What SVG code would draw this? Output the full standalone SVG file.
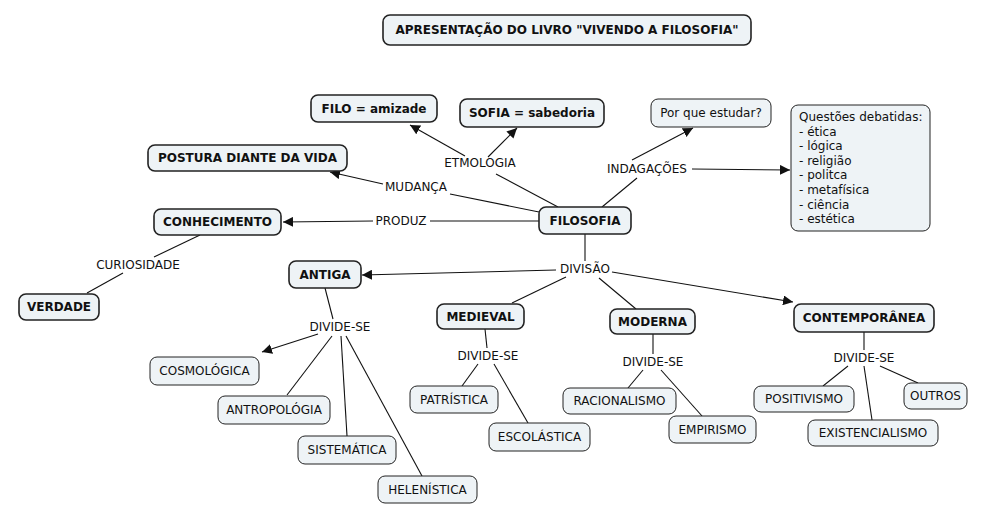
<svg xmlns="http://www.w3.org/2000/svg" width="982" height="519" viewBox="0 0 982 519">
<style>
text{font-family:"DejaVu Sans",Verdana,sans-serif;font-size:12px;fill:#111;text-anchor:middle;dominant-baseline:central}
.b{font-weight:bold}
rect{fill:#eef3f6;stroke:#222;stroke-width:1}
.n rect.k{stroke-width:1.6}
.c line{stroke:#111;stroke-width:1.1}
.lab{fill:#fff}
</style>
<defs><marker id="a" viewBox="0 0 10 10" refX="10" refY="5" markerWidth="10" markerHeight="10" markerUnits="userSpaceOnUse" orient="auto"><path d="M0,0L10,5L0,10z" fill="#111"/></marker></defs>
<g class="c">
<line x1="558" y1="207" x2="496" y2="174"/>
<line x1="465" y1="156" x2="410" y2="125" marker-end="url(#a)"/>
<line x1="488" y1="157" x2="517" y2="128" marker-end="url(#a)"/>
<line x1="539" y1="212" x2="450" y2="194"/>
<line x1="383" y1="184" x2="330" y2="172" marker-end="url(#a)"/>
<line x1="539" y1="221" x2="430" y2="221"/>
<line x1="373" y1="221" x2="283" y2="222" marker-end="url(#a)"/>
<line x1="602" y1="207" x2="637" y2="178"/>
<line x1="632" y1="160" x2="693" y2="128" marker-end="url(#a)"/>
<line x1="692" y1="169" x2="790" y2="170" marker-end="url(#a)"/>
<line x1="585" y1="234" x2="585" y2="261"/>
<line x1="556" y1="270" x2="362" y2="275" marker-end="url(#a)"/>
<line x1="566" y1="277" x2="512" y2="303"/>
<line x1="599" y1="278" x2="636" y2="309"/>
<line x1="612" y1="272" x2="793" y2="302" marker-end="url(#a)"/>
<line x1="200" y1="235" x2="154" y2="257"/>
<line x1="123" y1="273" x2="87" y2="293"/>
<line x1="325" y1="288" x2="333" y2="319"/>
<line x1="318" y1="334" x2="262" y2="352" marker-end="url(#a)"/>
<line x1="332" y1="336" x2="287" y2="395"/>
<line x1="341" y1="336" x2="347" y2="436"/>
<line x1="346" y1="336" x2="422" y2="476"/>
<line x1="485" y1="329" x2="487" y2="348"/>
<line x1="478" y1="364" x2="462" y2="386"/>
<line x1="494" y1="364" x2="528" y2="423"/>
<line x1="653" y1="334" x2="653" y2="354"/>
<line x1="643" y1="370" x2="628" y2="388"/>
<line x1="661" y1="370" x2="702" y2="416"/>
<line x1="864" y1="332" x2="864" y2="350"/>
<line x1="848" y1="366" x2="823" y2="386"/>
<line x1="864" y1="366" x2="872" y2="420"/>
<line x1="880" y1="366" x2="918" y2="383"/>
</g>
<g class="c">
<text x="480" y="163">ETMOLOGIA</text>
<text x="416" y="187">MUDANÇA</text>
<text x="401" y="221">PRODUZ</text>
<text x="647" y="169">INDAGAÇÕES</text>
<text x="585" y="269">DIVISÃO</text>
<text x="138" y="265">CURIOSIDADE</text>
<text x="340" y="327">DIVIDE-SE</text>
<text x="488" y="356">DIVIDE-SE</text>
<text x="653" y="362">DIVIDE-SE</text>
<text x="864" y="358">DIVIDE-SE</text>
</g>
<g class="n">
<g id="titulo"><rect class="k" x="383" y="15" width="368" height="30" rx="7"/><text class="b" x="567" y="30">APRESENTAÇÃO DO LIVRO "VIVENDO A FILOSOFIA"</text></g>
<g id="filo"><rect class="k" x="311" y="95" width="126" height="27" rx="7"/><text class="b" x="374" y="108.5">FILO = amizade</text></g>
<g id="sofia"><rect class="k" x="460" y="99" width="144" height="28" rx="7"/><text class="b" x="532" y="113">SOFIA = sabedoria</text></g>
<g id="porque"><rect x="651" y="99" width="120" height="28" rx="7"/><text x="711" y="113">Por que estudar?</text></g>
<g id="questoes"><rect x="791" y="105" width="139" height="126" rx="7"/>
<text x="799" y="117" style="text-anchor:start">Questões debatidas:</text>
<text x="799" y="131.6" style="text-anchor:start">- ética</text>
<text x="799" y="146.2" style="text-anchor:start">- lógica</text>
<text x="799" y="160.8" style="text-anchor:start">- religião</text>
<text x="799" y="175.4" style="text-anchor:start">- politca</text>
<text x="799" y="190" style="text-anchor:start">- metafísica</text>
<text x="799" y="204.6" style="text-anchor:start">- ciência</text>
<text x="799" y="219.2" style="text-anchor:start">- estética</text></g>
<g id="postura"><rect class="k" x="148" y="145" width="199" height="26" rx="7"/><text class="b" x="247.5" y="158">POSTURA DIANTE DA VIDA</text></g>
<g id="conhecimento"><rect class="k" x="154" y="209" width="127" height="26" rx="7"/><text class="b" x="217.5" y="222">CONHECIMENTO</text></g>
<g id="filosofia"><rect class="k" x="539" y="207" width="92" height="27" rx="7"/><text class="b" x="585" y="220.5">FILOSOFIA</text></g>
<g id="verdade"><rect class="k" x="19" y="294" width="80" height="26" rx="7"/><text class="b" x="59" y="307">VERDADE</text></g>
<g id="antiga"><rect class="k" x="289" y="261" width="72" height="27" rx="7"/><text class="b" x="325" y="274.5">ANTIGA</text></g>
<g id="medieval"><rect class="k" x="437" y="304" width="87" height="25" rx="7"/><text class="b" x="480.5" y="316.5">MEDIEVAL</text></g>
<g id="moderna"><rect class="k" x="610" y="309" width="85" height="25" rx="7"/><text class="b" x="652.5" y="321.5">MODERNA</text></g>
<g id="contemporanea"><rect class="k" x="794" y="304" width="140" height="28" rx="7"/><text class="b" x="864" y="318">CONTEMPORÂNEA</text></g>
<g id="cosmologica"><rect x="150" y="357" width="109" height="28" rx="7"/><text x="204.5" y="371">COSMOLÓGICA</text></g>
<g id="antropologia"><rect x="218" y="396" width="112" height="28" rx="7"/><text x="274" y="410">ANTROPOLÓGIA</text></g>
<g id="sistematica"><rect x="298" y="436" width="98" height="28" rx="7"/><text x="347" y="450">SISTEMÁTICA</text></g>
<g id="helenistica"><rect x="378" y="476" width="99" height="27" rx="7"/><text x="427.5" y="489.5">HELENÍSTICA</text></g>
<g id="patristica"><rect x="410" y="386" width="88" height="27" rx="7"/><text x="454" y="399.5">PATRÍSTICA</text></g>
<g id="escolastica"><rect x="489" y="423" width="101" height="28" rx="7"/><text x="539.5" y="437">ESCOLÁSTICA</text></g>
<g id="racionalismo"><rect x="563" y="388" width="113" height="26" rx="7"/><text x="619.5" y="401">RACIONALISMO</text></g>
<g id="empirismo"><rect x="669" y="416" width="87" height="27" rx="7"/><text x="712.5" y="429.5">EMPIRISMO</text></g>
<g id="positivismo"><rect x="754" y="386" width="100" height="26" rx="7"/><text x="804" y="399">POSITIVISMO</text></g>
<g id="existencialismo"><rect x="808" y="420" width="130" height="26" rx="7"/><text x="873" y="433">EXISTENCIALISMO</text></g>
<g id="outros"><rect x="904" y="383" width="63" height="26" rx="7"/><text x="935.5" y="396">OUTROS</text></g>
</g>
</svg>
